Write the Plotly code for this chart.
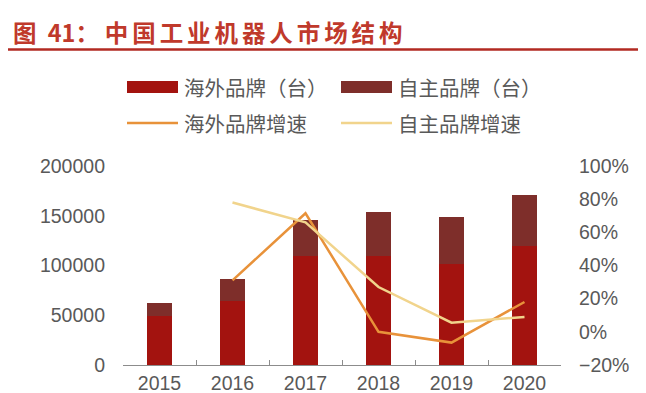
import plotly.graph_objects as go

years = ["2015", "2016", "2017", "2018", "2019", "2020"]
overseas_units = [49000, 64000, 110000, 110000, 102000, 120000]
domestic_units = [13000, 22000, 36000, 44000, 47000, 51000]
growth_years = ["2016", "2017", "2018", "2019", "2020"]
overseas_growth = [31, 71.5, 0, -6.5, 18]
domestic_growth = [78, 66, 27, 5.5, 9]

series_names = ["海外品牌（台）", "自主品牌（台）", "海外品牌增速", "自主品牌增速"]
title_prefix = "图\u2005 41："
title_main = "中国工业机器人市场结构"

# page body has an 8px margin: figure coords = screen coords - 8
OFF = 8
W, H = 646 - OFF, 393 - OFF
SL, SR, ST, SB = 123, 561, 166, 365   # plot area in screen px
L, R, T, B = SL - OFF, W - (SR - OFF), ST - OFF, H - (SB - OFF)
PW, PH = W - L - R, H - T - B

def px(x):
    return (x - OFF - L) / PW

def py(y):
    return (H - B - (y - OFF)) / PH

C_OVER = "#A3130F"
C_DOM = "#7E2E2A"
C_OG = "#E8923A"
C_DG = "#F1D48C"
GREY = "#595959"

fig = go.Figure()
fig.add_bar(x=years, y=overseas_units, name=series_names[0], marker_color=C_OVER,
            marker_line_width=0, width=0.34, showlegend=False)
fig.add_bar(x=years, y=domestic_units, name=series_names[1], marker_color=C_DOM,
            marker_line_width=0, width=0.34, showlegend=False)
fig.add_scatter(x=growth_years, y=overseas_growth, name=series_names[2], mode="lines",
                line=dict(color=C_OG, width=2.5), yaxis="y2", showlegend=False)
fig.add_scatter(x=growth_years, y=domestic_growth, name=series_names[3], mode="lines",
                line=dict(color=C_DG, width=2.5), yaxis="y2", showlegend=False)

tick_font = dict(family="Liberation Sans, Arial", size=19.5, color=GREY)

fig.update_layout(
    width=W, height=H,
    margin=dict(l=L, r=R, t=T, b=B, pad=0),
    paper_bgcolor="white", plot_bgcolor="white",
    barmode="stack", bargap=0.66,
    xaxis=dict(type="category", showgrid=False, showline=True, linecolor="#8c8c8c",
               linewidth=1, ticks="inside", ticklen=5, tickcolor="#8c8c8c",
               tickson="boundaries", tickfont=tick_font, range=[-0.5, 5.5],
               ticklabelstandoff=1, automargin=False),
    yaxis=dict(range=[0, 200000], dtick=50000, tickformat="d", showgrid=False,
               zeroline=False, showline=False, ticks="", tickfont=tick_font,
               ticklabelstandoff=17, automargin=False),
    yaxis2=dict(range=[-20, 100], dtick=20, ticksuffix="%", overlaying="y", side="right",
                showgrid=False, zeroline=False, showline=False, ticks="",
                tickfont=tick_font, ticklabelstandoff=17, automargin=False),
    font=dict(family="Noto Sans CJK SC"),
)

# title
spaced = title_prefix + "\u2005" + "\u2006".join(title_main)
fig.add_annotation(xref="paper", yref="paper", x=px(11), y=py(32), xanchor="left",
                   yanchor="middle", showarrow=False, text="<b>" + spaced + "</b>",
                   font=dict(family="Noto Sans CJK SC", size=23.5, color="#C0392B"))
fig.add_shape(type="line", xref="paper", yref="paper", x0=px(8), x1=px(660),
              y0=py(49.5), y1=py(49.5), line=dict(color="#B22A22", width=2.5))

# legend
leg_font = dict(family="Noto Sans CJK SC", size=20.5, color=GREY)
legend_items = [
    (series_names[0], C_OVER, "bar", 127, 87),
    (series_names[1], C_DOM, "bar", 341, 87),
    (series_names[2], C_OG, "line", 127, 123),
    (series_names[3], C_DG, "line", 341, 123),
]
for name, color, kind, x0, yc in legend_items:
    if kind == "bar":
        fig.add_shape(type="rect", xref="paper", yref="paper", x0=px(x0), x1=px(x0 + 51),
                      y0=py(yc + 6), y1=py(yc - 6), fillcolor=color, line_width=0)
    else:
        fig.add_shape(type="line", xref="paper", yref="paper", x0=px(x0), x1=px(x0 + 51),
                      y0=py(yc), y1=py(yc), line=dict(color=color, width=2.5))
    fig.add_annotation(xref="paper", yref="paper", x=px(x0 + 55), y=py(yc), xanchor="left",
                       yanchor="middle", showarrow=False, text=name, font=leg_font)

fig.write_html("out.html")
